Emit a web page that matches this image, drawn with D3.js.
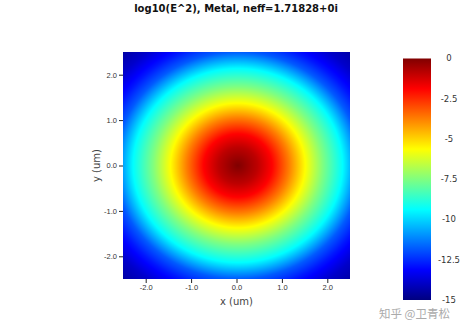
<!DOCTYPE html>
<html>
<head>
<meta charset="utf-8">
<script src="https://cdn.jsdelivr.net/npm/d3@7"></script>
<style>
  body { margin: 0; background: #fff; }
  svg { display: block; font-family: "DejaVu Sans", sans-serif; }
  .tick text { fill: #333; font-size: 7.5px; }
  .tick line { stroke: #222; }
</style>
</head>
<body>
<script>
(function(){

    //radial profile of log10(E^2) (radius in um)
    var profileR = [0, 0.4, 0.7, 1.05, 1.37, 1.73, 2.14, 2.5, 2.75, 3.1, 3.5];
    var profileV = [0, -0.9, -1.9, -3.75, -5.6, -7.5, -9.4, -11.8, -12.8, -13.9, -14.6];

    //axis ticks
    var xyTicks = [-2, -1, 0, 1, 2];
    var barTicks = [0, -2.5, -5, -7.5, -10, -12.5, -15];

    //jet colour stops
    var jetValues = [-15, -13.125, -9.375, -5.625, -1.875, 0];
    var jetColors = ["#000080", "#0000ff", "#00ffff", "#ffff00", "#ff0000", "#800000"];

    var width = 474,
        height = 331;

    var svg = d3.select("body")
        .append("svg")
        .attr("width", width)
        .attr("height", height);

    var x = d3.scaleLinear().domain([-2.5, 2.5]).range([123, 350]);
    var y = d3.scaleLinear().domain([-2.5, 2.5]).range([279, 52]);
    var color = d3.scaleLinear().domain(jetValues).range(jetColors).clamp(true);
    var profile = d3.scaleLinear().domain(profileR).range(profileV).clamp(true);

    //mode is a bit wider along x than along y
    var xStretch = 1.08, cx = 0.03, cy = 0;

    //paint the field into a canvas, one cell per pixel
    var nx = Math.round(x.range()[1] - x.range()[0]),
        ny = Math.round(y.range()[0] - y.range()[1]);
    var canvas = document.createElement("canvas");
    canvas.width = nx;
    canvas.height = ny;
    var ctx = canvas.getContext("2d");
    var img = ctx.createImageData(nx, ny);
    for (var j = 0; j < ny; j++) {
        var yv = y.invert(y.range()[1] + j + 0.5);
        for (var i = 0; i < nx; i++) {
            var xv = x.invert(x.range()[0] + i + 0.5);
            var r = Math.sqrt(Math.pow((xv - cx) / xStretch, 2) + Math.pow(yv - cy, 2));
            var c = d3.rgb(color(profile(r)));
            var k = (j * nx + i) * 4;
            img.data[k] = c.r;
            img.data[k + 1] = c.g;
            img.data[k + 2] = c.b;
            img.data[k + 3] = 255;
        }
    }
    ctx.putImageData(img, 0, 0);

    svg.append("image")
        .attr("x", x.range()[0])
        .attr("y", y.range()[1])
        .attr("width", nx)
        .attr("height", ny)
        .attr("preserveAspectRatio", "none")
        .attr("href", canvas.toDataURL());

    //axes
    var fmt = function(d){ return d.toFixed(1); };

    svg.append("g")
        .attr("transform", "translate(0," + y.range()[0] + ")")
        .call(d3.axisBottom(x).tickValues(xyTicks).tickFormat(fmt).tickSize(4).tickPadding(2))
        .call(function(g){ g.select(".domain").remove(); });

    svg.append("g")
        .attr("transform", "translate(" + x.range()[0] + ",0)")
        .call(d3.axisLeft(y).tickValues(xyTicks).tickFormat(fmt).tickSize(4).tickPadding(2))
        .call(function(g){ g.select(".domain").remove(); });

    //axis labels
    svg.append("text")
        .attr("x", x(0))
        .attr("y", 305)
        .attr("text-anchor", "middle")
        .style("font-size", "10px")
        .style("fill", "#444")
        .text("x (um)");

    svg.append("text")
        .attr("transform", "translate(100," + y(0) + ") rotate(-90)")
        .attr("text-anchor", "middle")
        .style("font-size", "10px")
        .style("fill", "#444")
        .text("y (um)");

    //title
    svg.append("text")
        .attr("x", 236)
        .attr("y", 12)
        .attr("text-anchor", "middle")
        .style("font-size", "10px")
        .style("font-weight", "bold")
        .style("fill", "#111")
        .text("log10(E^2), Metal, neff=1.71828+0i");

    //colour bar
    var bar = d3.scaleLinear().domain([0, -15]).range([58.5, 300]);

    var grad = svg.append("defs").append("linearGradient")
        .attr("id", "jet")
        .attr("x1", 0).attr("y1", 1)
        .attr("x2", 0).attr("y2", 0);
    grad.selectAll("stop")
        .data(jetValues)
        .enter()
        .append("stop")
        .attr("offset", function(d){ return (d + 15) / 15; })
        .attr("stop-color", function(d, i){ return jetColors[i]; });

    svg.append("rect")
        .attr("x", 403)
        .attr("y", bar(0))
        .attr("width", 28)
        .attr("height", bar(-15) - bar(0))
        .style("fill", "url(#jet)");

    svg.selectAll(".barLabel")
        .data(barTicks)
        .enter()
        .append("text")
        .attr("class", "barLabel")
        .attr("x", 449)
        .attr("y", function(d){ return bar(d); })
        .attr("dy", "0.35em")
        .attr("text-anchor", "middle")
        .style("font-size", "8.5px")
        .style("fill", "#333")
        .text(function(d){ return String(d); });

    //watermark
    svg.append("text")
        .attr("x", 379)
        .attr("y", 318)
        .style("font-family", "'Noto Sans CJK SC', sans-serif")
        .style("font-size", "11.5px")
        .style("fill", "#aaa")
        .text("知乎 @卫青松");

})();
</script>
</body>
</html>
